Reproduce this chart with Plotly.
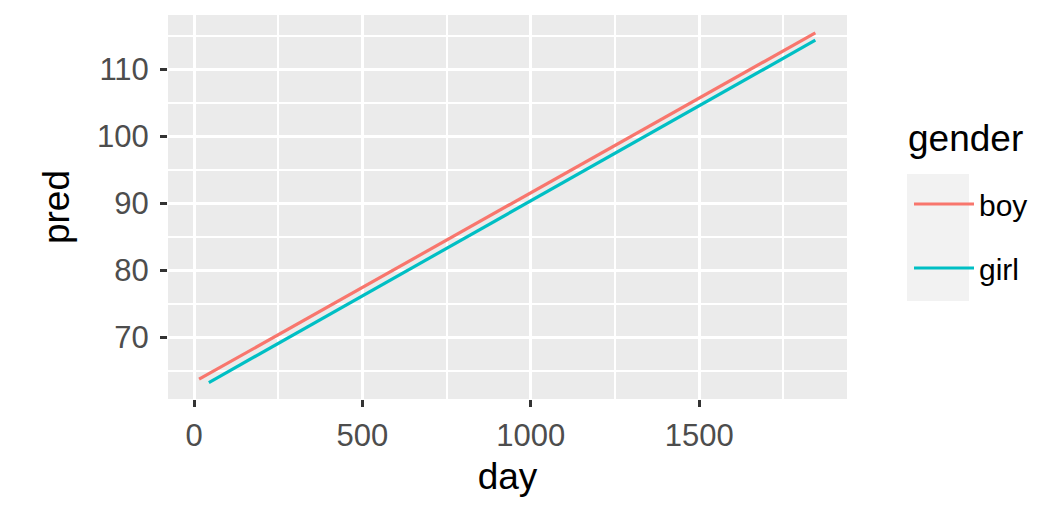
import plotly.graph_objects as go

genders = ["boy", "girl"]
colors = {"boy": "#F8766D", "girl": "#00BFC4"}
boy_day = [15, 1845]
boy_pred = [63.7, 115.4]
girl_day = [44, 1845]
girl_pred = [63.2, 114.3]
series = {"boy": (boy_day, boy_pred), "girl": (girl_day, girl_pred)}

x_ticks = [0, 500, 1000, 1500]
y_ticks = [70, 80, 90, 100, 110]

FONT = "Liberation Sans, Arial, sans-serif"

fig = go.Figure()
for g in genders:
    d, p = series[g]
    fig.add_trace(go.Scatter(x=d, y=p, mode="lines", name=g, legendgroup=g,
                             line=dict(color=colors[g], width=3.2)))

# page body has an 8px margin; figure sized to fit the 1060x515 window
OFF = 8
W, H = 1052, 507
L, T = 160, 7
pw, ph = 679, 384
R = W - L - pw
B = H - T - ph

def px_x(sx):
    return (sx - OFF - L) / pw

def px_y(sy):
    return (T + ph - (sy - OFF)) / ph

fig.add_shape(type="rect", xref="paper", yref="paper",
              x0=px_x(907), x1=px_x(969), y0=px_y(301), y1=px_y(174),
              fillcolor="#F2F2F2", line=dict(width=0), layer="below")

fig.add_annotation(text="gender", xref="paper", yref="paper",
                   x=px_x(906), y=px_y(138), xanchor="left", yanchor="middle",
                   showarrow=False, font=dict(family=FONT, size=37, color="black"))

axis_common = dict(
    showline=False, zeroline=False, ticks="outside", ticklen=7, tickwidth=2.5,
    tickcolor="#333333", gridcolor="white", gridwidth=3,
    tickfont=dict(family=FONT, size=31, color="#4D4D4D"),
)

fig.update_layout(
    width=W, height=H,
    margin=dict(l=L, r=R, t=T, b=B, autoexpand=False),
    paper_bgcolor="white", plot_bgcolor="#EBEBEB",
    font=dict(family=FONT, color="black"),
    xaxis=dict(range=[-77.3, 1939], tickvals=x_ticks, ticklabelstandoff=2,
               title=dict(text="day", font=dict(family=FONT, size=37, color="black"), standoff=10),
               minor=dict(dtick=250, tick0=0, showgrid=True, gridcolor="white", gridwidth=1.8, ticks=""),
               **axis_common),
    yaxis=dict(range=[60.75, 118.06], tickvals=y_ticks, ticklabelstandoff=5,
               title=dict(text="pred", font=dict(family=FONT, size=37, color="black"), standoff=16),
               minor=dict(dtick=5, tick0=0, showgrid=True, gridcolor="white", gridwidth=1.8, ticks=""),
               **axis_common),
    legend=dict(
        x=px_x(909), y=px_y(178), xanchor="left", yanchor="top",
        font=dict(family=FONT, size=30, color="black"),
        bgcolor="rgba(0,0,0,0)", tracegroupgap=22,
        itemwidth=60,
    ),
    showlegend=True,
)

fig.write_html("out.html")
